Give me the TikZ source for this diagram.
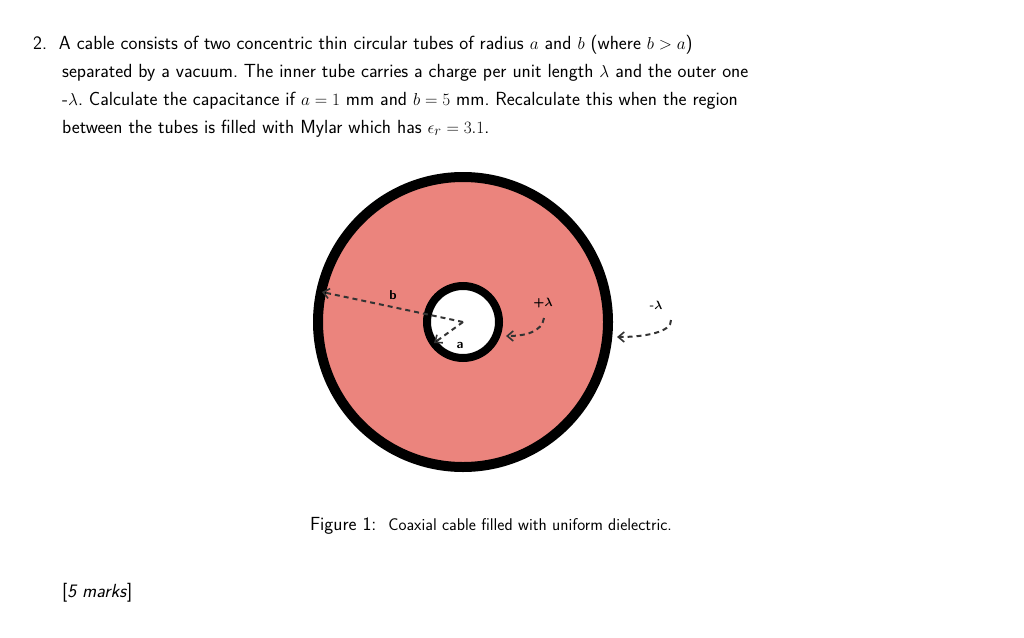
\documentclass[tikz,border=0pt]{standalone}
\usepackage{amsmath,bm}
\usetikzlibrary{arrows.meta}
\definecolor{salmon}{RGB}{235,132,125}
\tikzset{
  txt/.style={anchor=base west,inner sep=0pt,font=\sffamily\fontsize{19}{23}\selectfont},
  lbl/.style={inner sep=0pt,font=\sffamily\bfseries\fontsize{13}{15}\selectfont},
  darr/.style={draw=black!80,line width=2pt,dash pattern=on 5pt off 4pt,-{Straight Barb[length=6pt,width=10pt,line width=1.6pt]}}
}
\begin{document}
\begin{tikzpicture}[x=1pt,y=-1pt]
\useasboundingbox (0,0) rectangle (1024,637);
\node[txt] (l1) at (33,49) {2.\ \ A cable consists of two concentric thin circular tubes of radius $a$ and $b$ (where $b>a$)};
\node[txt] (l2) at (62,77) {separated by a vacuum.\ The inner tube carries a charge per unit length $\lambda$ and the outer one};
\node[txt] (l3) at (62,105) {-$\lambda$.\ Calculate the capacitance if $a=1$ mm and $b=5$ mm.\ Recalculate this when the region};
\node[txt] (l4) at (62,133) {between the tubes is filled with Mylar which has $\epsilon_r=3.1$.};
\coordinate (c) at (463,322);
\node[circle,minimum size=290pt,fill=salmon,draw=black,line width=10pt] (outer) at (c) {};
\node[circle,minimum size=72pt,fill=white,draw=black,line width=8pt] (inner) at (c) {};
\node[lbl] (b) at (393,295) {b};
\node[lbl] (a) at (460,345) {a};
\node[lbl] (pl) at (543,303) {+$\bm{\lambda}$};
\node[lbl] (ml) at (656,305) {-$\bm{\lambda}$};
\coordinate (bt) at (322,292);
\coordinate (at) at (434,343);
\coordinate (ps) at (544,318);
\coordinate (pt) at (506,336);
\coordinate (ms) at (671,320);
\coordinate (mt) at (617,337);
\draw[darr] (c) -- (bt);
\draw[darr] (c) -- (at);
\draw[darr] (ps) .. controls (542,332) and (525,336) .. (pt);
\draw[darr] (ms) .. controls (672,332) and (645,337) .. (mt);
\node[txt,anchor=base] (cap) at (491,530) {Figure 1:\ \ {\fontsize{17}{20}\selectfont Coaxial cable filled with uniform dielectric.}};
\node[txt] (marks) at (62,597) {[\textit{5 marks}]};
\end{tikzpicture}
\end{document}
